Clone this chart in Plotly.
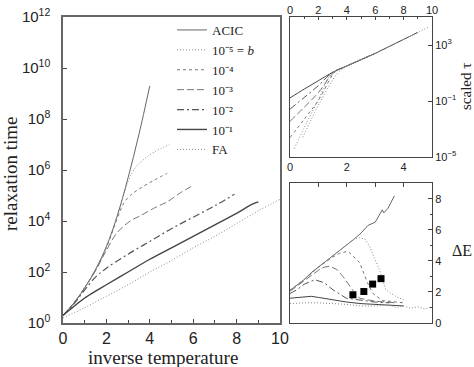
import numpy as np
import plotly.graph_objects as go

# ---------------- main panel: relaxation time vs inverse temperature (log10 tau) -------------
acic_b = [0, 0.5, 1, 1.5, 2, 2.5, 3, 3.5, 4.0]
acic_t = [0.3, 0.78, 1.38, 2.1, 3.0, 4.2, 5.7, 7.4, 9.3]
b5_b = [0, 0.5, 1, 1.5, 2, 2.5, 3.0, 3.3, 3.7, 4.2, 4.9]
b5_t = [0.3, 0.78, 1.38, 2.1, 3.0, 4.2, 5.55, 6.05, 6.4, 6.7, 7.0]
b4_b = [0, 0.5, 1, 1.5, 2, 2.5, 2.8, 3.1, 3.55, 4.2, 4.8]
b4_t = [0.3, 0.78, 1.38, 2.08, 2.95, 4.1, 4.7, 5.0, 5.28, 5.6, 5.87]
b3_b = [0, 0.5, 1, 1.5, 2.0, 2.5, 3.1, 3.55, 4.3, 4.8, 5.4, 5.9]
b3_t = [0.3, 0.78, 1.38, 2.05, 2.85, 3.55, 4.0, 4.2, 4.55, 4.75, 5.1, 5.35]
b2_b = [0, 0.5, 1, 1.5, 2, 3, 4, 5, 6, 7, 7.9]
b2_t = [0.3, 0.75, 1.3, 1.8, 2.15, 2.7, 3.2, 3.7, 4.15, 4.6, 5.05]
b1_b = [0, 0.5, 1, 1.5, 2, 3, 4, 5, 6, 7, 8, 8.7, 9.0]
b1_t = [0.3, 0.65, 0.98, 1.25, 1.5, 2.0, 2.5, 2.95, 3.4, 3.85, 4.3, 4.65, 4.75]
fa_b = [0, 1, 2, 3, 4, 5, 6, 7, 8, 9, 10]
fa_t = [0.2, 0.6, 1.05, 1.5, 2.0, 2.45, 2.95, 3.4, 3.9, 4.4, 4.85]

# ---------------- top-right panel: scaled tau (log10) ----------------
s1_u = [0, 0.5, 1.0, 1.5, 2, 2.5, 3, 3.5, 4, 4.5]
s1_t = [-0.78, -0.15, 0.45, 1.05, 1.5, 1.95, 2.4, 2.9, 3.4, 3.9]
s2_u = [0, 0.5, 1.0, 1.5, 2, 3]
s2_t = [-1.58, -0.75, 0.1, 1.05, 1.5, 2.4]
s3_u = [0, 0.5, 1.0, 1.55, 2, 3]
s3_t = [-2.45, -1.45, -0.4, 1.05, 1.5, 2.4]
s4_u = [0, 0.5, 1.0, 1.6, 2, 3]
s4_t = [-3.62, -2.3, -0.95, 1.1, 1.5, 2.4]
s5_u = [0.15, 0.5, 1.0, 1.45, 1.7, 2, 3]
s5_t = [-4.4, -2.9, -0.9, 0.96, 1.2, 1.5, 2.4]
sf_u = [0.45, 1.0, 1.68, 2, 3, 4, 4.5, 4.9]
sf_t = [-3.6, -1.3, 1.0, 1.5, 2.4, 3.4, 3.9, 4.3]

# ---------------- bottom-right panel: Delta E vs inverse temperature ----------------
ea_b = [0, 0.5, 1, 1.5, 2, 2.5, 3, 3.5, 4, 4.5, 5, 5.5, 6.0, 6.3, 6.5, 6.6, 6.9, 7.35]
ea_e = [2.1, 2.45, 2.8, 3.25, 3.6, 3.95, 4.3, 4.7, 5.05, 5.4, 5.8, 6.3, 6.5, 7.0, 7.3, 7.1, 7.4, 8.2]
e5_b = [0, 1, 2, 3, 4, 4.5, 4.9, 5.3, 5.6, 6.3, 6.75, 7.45, 8.0]
e5_e = [2.1, 2.8, 3.6, 4.3, 5.05, 5.4, 5.5, 5.4, 4.95, 3.44, 2.15, 1.7, 1.5]
e4_b = [0, 1, 2, 3, 3.5, 4.08, 4.9, 5.45, 5.82, 6.5, 8.0]
e4_e = [2.1, 2.8, 3.6, 4.25, 4.5, 4.63, 3.9, 2.6, 1.93, 1.45, 1.3]
e3_b = [0, 1, 2, 2.4, 2.8, 3.3, 3.73, 4.4, 4.9, 6.0, 7.5]
e3_e = [2.05, 2.75, 3.4, 3.6, 3.66, 3.45, 3.0, 2.14, 1.6, 1.4, 1.3]
e2_b = [0, 0.5, 1.0, 1.75, 2.4, 3.03, 3.96, 5.0, 6.0, 7.0]
e2_e = [1.9, 2.15, 2.5, 2.79, 2.6, 2.14, 1.6, 1.45, 1.35, 1.3]
e1_b = [0, 0.5, 1, 1.5, 2, 3, 4, 5, 6, 7, 8]
e1_e = [1.6, 1.65, 1.7, 1.72, 1.65, 1.5, 1.35, 1.25, 1.2, 1.15, 1.1]
ef_b = [0, 1, 2, 3, 4, 5, 6, 7, 7.5, 8, 8.5, 9, 9.5, 10]
ef_e = [1.25, 1.3, 1.3, 1.25, 1.2, 1.1, 1.1, 1.15, 1.0, 1.1, 0.95, 1.05, 0.9, 1.05]
sq_b = [4.43, 5.2, 5.82, 6.41]
sq_e = [1.82, 2.03, 2.51, 2.86]

names = ["ACIC", "10\u207b\u2075 = <i>b</i>", "10\u207b\u2074", "10\u207b\u00b3",
         "10\u207b\u00b2", "10\u207b\u00b9", "FA"]

styles = [
    dict(color="#666666", width=1, dash="solid"),
    dict(color="#888888", width=1, dash="1px,2px"),
    dict(color="#777777", width=1, dash="3px,3px"),
    dict(color="#777777", width=1, dash="7px,3px"),
    dict(color="#555555", width=1.2, dash="7px,3px,2px,3px"),
    dict(color="#444444", width=1.4, dash="solid"),
    dict(color="#888888", width=1, dash="1px,2px"),
]

fig = go.Figure()
main_sets = [(acic_b, acic_t), (b5_b, b5_t), (b4_b, b4_t), (b3_b, b3_t),
             (b2_b, b2_t), (b1_b, b1_t), (fa_b, fa_t)]
for (xb, lt), nm, st in zip(main_sets, names, styles):
    fig.add_trace(go.Scatter(x=xb, y=10 ** np.array(lt), mode="lines", name=nm,
                             line=dict(shape="spline", **st), xaxis="x", yaxis="y"))

tr_sets = [(s1_u, s1_t, 5), (s2_u, s2_t, 4), (s3_u, s3_t, 3), (s4_u, s4_t, 2), (s5_u, s5_t, 1), (sf_u, sf_t, 6)]
for xu, lt, k in tr_sets:
    fig.add_trace(go.Scatter(x=xu, y=10 ** np.array(lt), mode="lines", showlegend=False,
                             line=dict(shape="spline", **{**styles[k], "width": 1}), xaxis="x2", yaxis="y2"))

br_sets = [(ea_b, ea_e, 0), (e5_b, e5_e, 1), (e4_b, e4_e, 2), (e3_b, e3_e, 3), (e2_b, e2_e, 4), (e1_b, e1_e, 5), (ef_b, ef_e, 6)]
for xb, ee, k in br_sets:
    fig.add_trace(go.Scatter(x=xb, y=ee, mode="lines", showlegend=False,
                             line=dict(**{**styles[k], "width": 1}), xaxis="x3", yaxis="y3"))
fig.add_trace(go.Scatter(x=sq_b, y=sq_e, mode="markers", showlegend=False,
                         marker=dict(symbol="square", size=7, color="black"), xaxis="x3", yaxis="y3"))
# empty trace so that the top "inverse temperature" scale (0-10) above the right panels is drawn
fig.add_trace(go.Scatter(x=ef_b, y=[None] * len(ef_b), mode="lines", showlegend=False,
                         hoverinfo="skip", xaxis="x4", yaxis="y2"))

W, H = 474, 367
def px(x): return x / W
def py(y): return (H - y) / H

AX = dict(showline=True, linecolor="#444444", linewidth=1, ticks="inside", tickcolor="#444444",
          showgrid=False, zeroline=False, automargin=False, ticklabeloverflow="allow",
          tickfont=dict(family="Liberation Sans", size=11, color="#222"))

main_dec = list(range(0, 13, 2))
fig.update_layout(
    width=W, height=H, margin=dict(l=0, r=0, t=0, b=0, autoexpand=False),
    paper_bgcolor="white", plot_bgcolor="white",
    xaxis=dict(AX, domain=[px(63), px(280)], range=[0, 10], tickvals=[0, 2, 4, 6, 8, 10],
               ticklen=4, minor=dict(dtick=1, ticks="inside", ticklen=3, tickcolor="#444"),
               mirror=True, anchor="y", linecolor="#666", linewidth=1.5,
               tickfont=dict(family="Liberation Sans", size=16, color="#222")),
    yaxis=dict(AX, domain=[py(323), py(17)], type="log", range=[0, 12],
               tickvals=[10.0 ** d for d in main_dec],
               ticktext=["10<sup>%d</sup>" % d for d in main_dec], ticklen=4,
               mirror=True, anchor="x", ticklabelstandoff=8, linecolor="#666", linewidth=1.5,
               tickfont=dict(family="Liberation Sans", size=15, color="#222")),
    xaxis2=dict(AX, domain=[px(290), px(432)], range=[0, 5], tickvals=[0, 2, 4], ticks="",
                mirror=True, anchor="y2"),
    yaxis2=dict(AX, domain=[py(157), py(17)], type="log", range=[-5, 5], side="right",
                tickvals=[1e-5, 1e-1, 1e3], ticktext=["10<sup>\u22125</sup>", "10<sup>\u22121</sup>", "10<sup>3</sup>"],
                ticklen=4, mirror=True, anchor="x2"),
    xaxis4=dict(AX, overlaying="x2", side="top", range=[0, 10], tickvals=[0, 2, 4, 6, 8, 10],
                ticklen=3, anchor="y2", showline=False,
                minor=dict(dtick=1, ticks="inside", ticklen=2, tickcolor="#444")),
    xaxis3=dict(AX, domain=[px(290), px(432)], range=[0, 10], side="top", tickvals=[2, 4, 6, 8],
                showticklabels=False, ticklen=4, mirror=True, anchor="y3"),
    yaxis3=dict(AX, domain=[py(323), py(183)], range=[0, 9.03], side="right", tickvals=[0, 2, 4, 6, 8],
                ticklen=4, minor=dict(dtick=1, ticks="inside", ticklen=2, tickcolor="#444"),
                mirror=True, anchor="x3"),
    legend=dict(x=px(172), y=py(15), xanchor="left", yanchor="top", bgcolor="rgba(0,0,0,0)",
                font=dict(family="Liberation Serif", size=13, color="#222"), tracegroupgap=0,
                itemwidth=30),
    showlegend=True,
)

SERIF = dict(family="Liberation Serif", color="#222")
def label(text, x, y, size, angle=0):
    fig.add_annotation(text=text, x=px(x), y=py(y), xref="paper", yref="paper",
                       xanchor="center", yanchor="middle", textangle=angle,
                       showarrow=False, font=dict(SERIF, size=size))

label("relaxation time", 10, 174, 19, -90)
label("inverse temperature", 163, 357, 19)
label("scaled \u03c4", 466, 87, 15, -90)
label("\u0394E", 462, 250, 16)

# remove the default 8px page margin so the 474x367 figure fills the window exactly
fig.write_html("out.html", config={"displayModeBar": False},
               post_script="document.body.style.margin='0px';")
